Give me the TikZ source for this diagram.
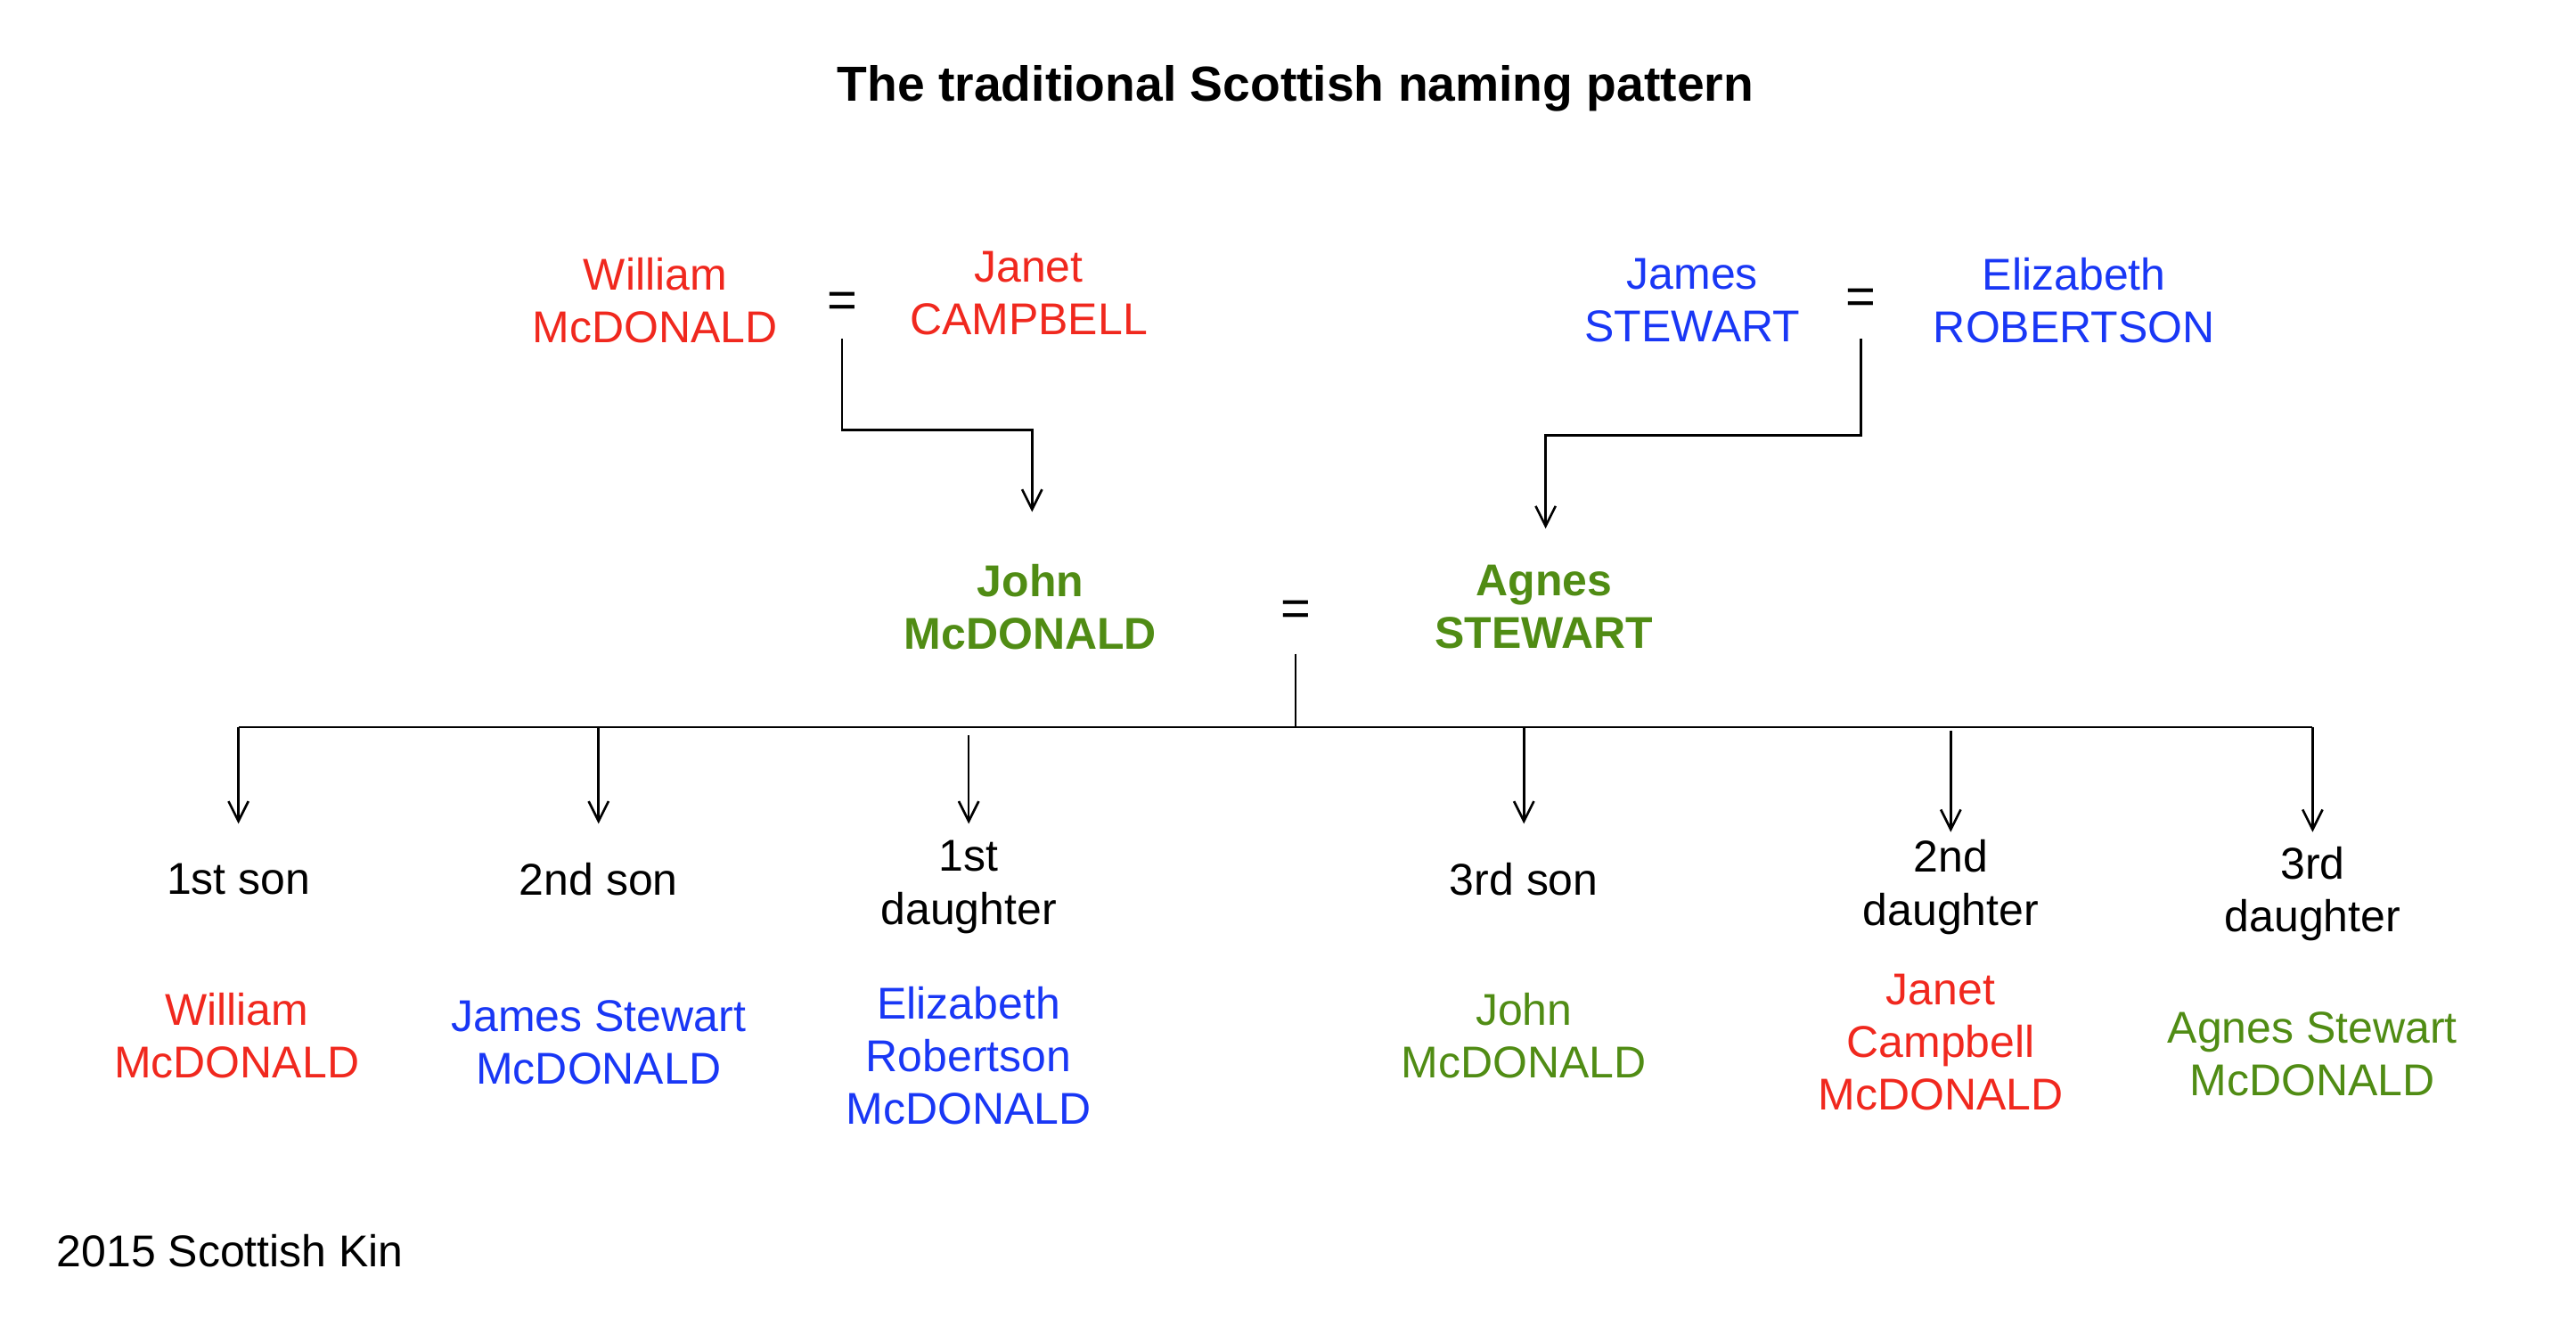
\documentclass[tikz,border=0pt]{standalone}
\usepackage{fontspec}
\setmainfont{Liberation Sans}
\usetikzlibrary{arrows.meta}
\definecolor{cr}{RGB}{240,40,30}
\definecolor{cb}{RGB}{25,55,245}
\definecolor{cg}{RGB}{80,140,20}
\begin{document}
\begin{tikzpicture}[x=0.05cm,y=-0.05cm,
  t/.style={align=center,inner sep=0pt,font=\fontsize{38}{45}\selectfont},
  eq/.style={inner sep=0pt,font=\fontsize{44}{45}\selectfont},
  ln/.style={line width=2pt},
  ar/.style={ln,-{Straight Barb[length=17pt,width=17pt,line width=2pt]}}]
\useasboundingbox (0,0) rectangle (1545,790);
\node[t,font=\bfseries\fontsize{42}{45}\selectfont] (title) at (777,53) {The traditional Scottish naming pattern};
\node[t,text=cr] (wm) at (393,180) {William\\McDONALD};
\node[eq] (e1) at (505,183) {=};
\node[t,text=cr] (jc) at (617,176) {Janet\\CAMPBELL};
\node[t,text=cb] (js) at (1015,180) {James\\STEWART};
\node[eq] (e2) at (1116,181) {=};
\node[t,text=cb] (er) at (1244,180) {Elizabeth\\ROBERTSON};
\node[t,text=cg,font=\bfseries\fontsize{38}{45}\selectfont] (jm) at (618,364) {John\\McDONALD};
\node[eq] (e3) at (777,368) {=};
\node[t,text=cg,font=\bfseries\fontsize{38}{45}\selectfont] (as) at (926,364) {Agnes\\STEWART};
\coordinate (a1) at (505,203); \coordinate (a2) at (619,307);
\draw[ar] (a1) |- (619,258) -- (a2);
\coordinate (b1) at (1116,203); \coordinate (b2) at (927,317);
\draw[ar] (b1) |- (927,261) -- (b2);
\coordinate (c0) at (777,392); \coordinate (c1) at (777,436);
\draw[ln] (c0) -- (c1);
\draw[ln] (143,436) -- (1387,436);
\foreach \x/\ya/\yb/\n in {143/436/494/s1,359/436/494/s2,581/441/494/d1,914/436/494/s3,1170/438/499/d2,1387/436/499/d3}
  \draw[ar] (\x,\ya) -- (\x,\yb) coordinate (\n);
\node[t] (l1) at (143,527) {1st son};
\node[t] (l2) at (359,527) {2nd son};
\node[t] (l3) at (581,532) {1st\\daughter};
\node[t] (l4) at (914,527) {3rd son};
\node[t] (l5) at (1170,532) {2nd\\daughter};
\node[t] (l6) at (1387,536) {3rd\\daughter};
\node[t,text=cr] (n1) at (142,621) {William\\McDONALD};
\node[t,text=cb] (n2) at (359,625) {James Stewart\\McDONALD};
\node[t,text=cb] (n3) at (581,633) {Elizabeth\\Robertson\\McDONALD};
\node[t,text=cg] (n4) at (914,621) {John\\McDONALD};
\node[t,text=cr] (n5) at (1164,625) {Janet\\Campbell\\McDONALD};
\node[t,text=cg] (n6) at (1387,632) {Agnes Stewart\\McDONALD};
\node[t,anchor=west] (ft) at (34,750) {2015 Scottish Kin};
\end{tikzpicture}
\end{document}
